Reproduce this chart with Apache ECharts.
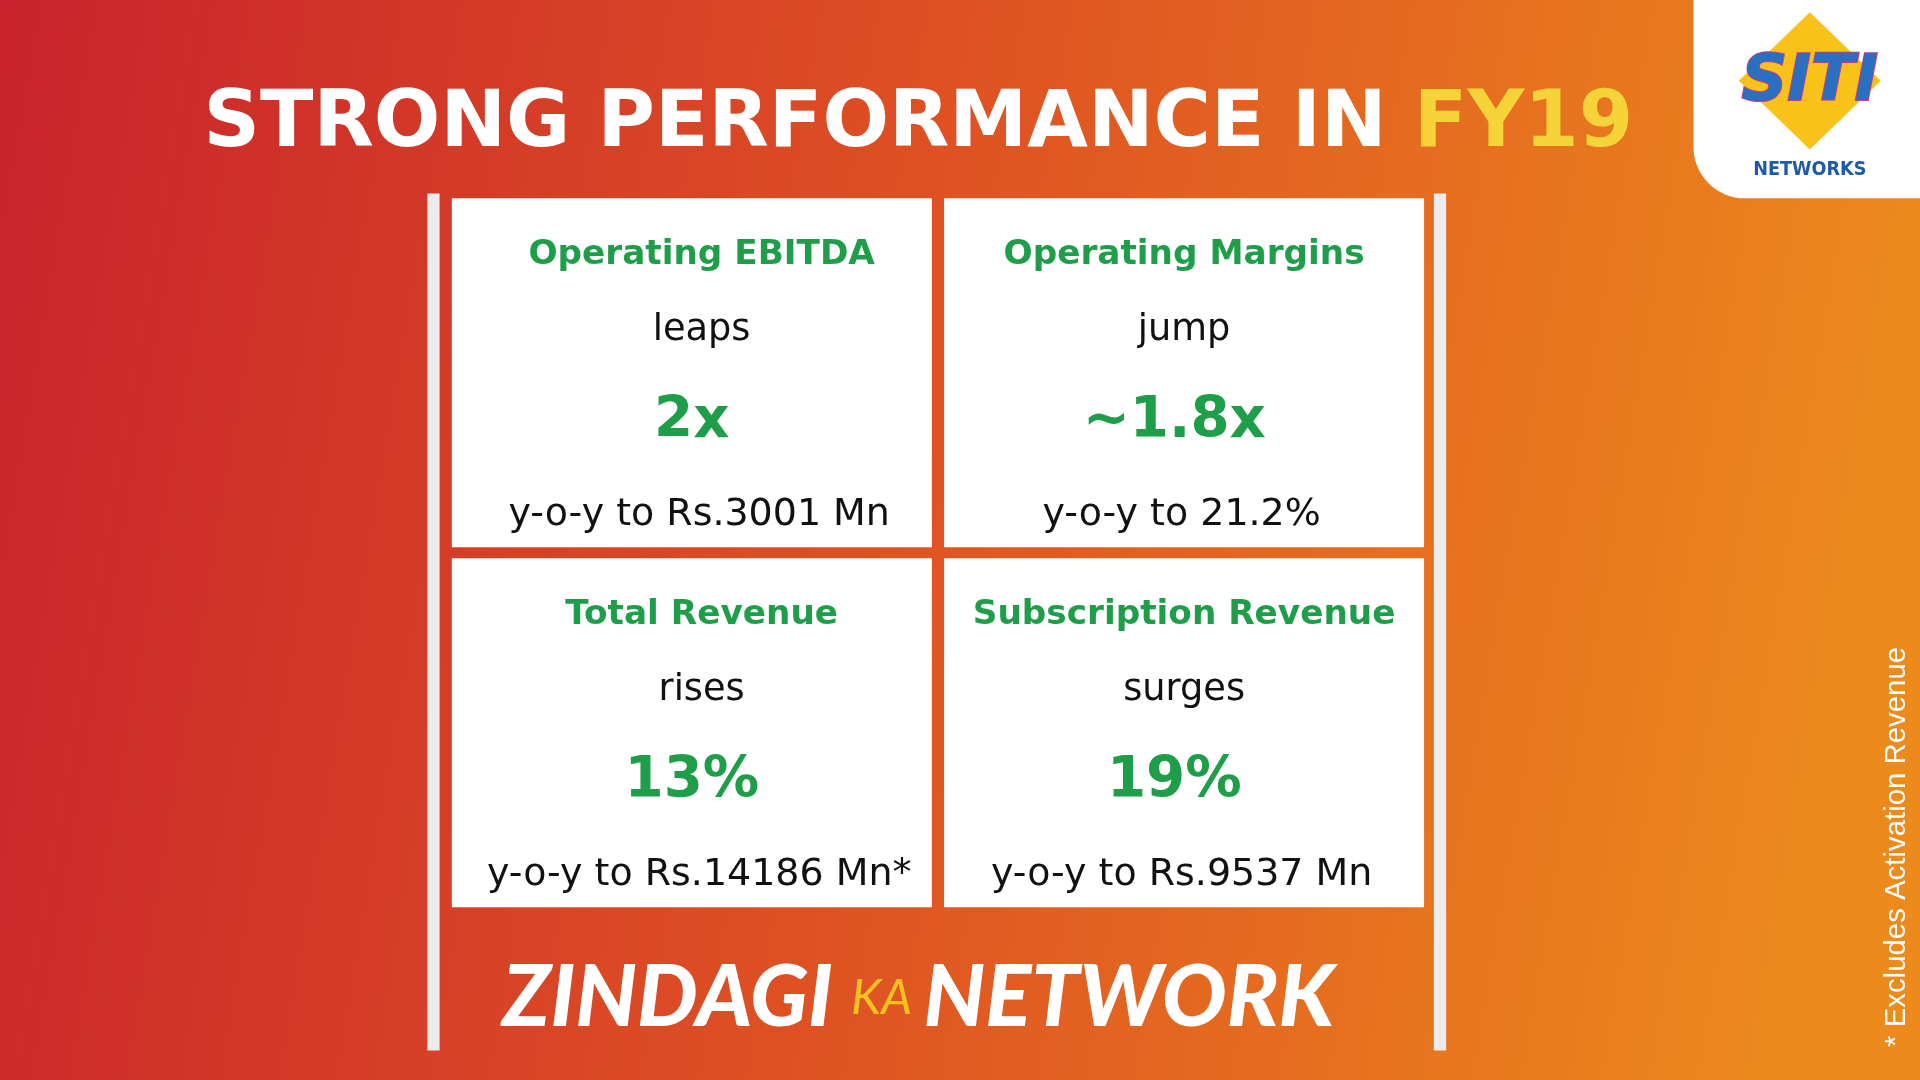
<!DOCTYPE html>
<html><head><meta charset="utf-8">
<script src="https://cdn.jsdelivr.net/npm/echarts@6/dist/echarts.min.js"></script>
<style>html,body{margin:0;padding:0;width:1920px;height:1080px;overflow:hidden}#c{width:1920px;height:1080px}</style>
</head><body><div id="c"></div>
<script>
const titles = ["Operating EBITDA","Operating Margins","Total Revenue","Subscription Revenue"];
const verbs = ["leaps","jump","rises","surges"];
const values = ["2x","~1.8x","13%","19%"];
const subtexts = ["y-o-y to Rs.3001 Mn","y-o-y to 21.2%","y-o-y to Rs.14186 Mn*","y-o-y to Rs.9537 Mn"];

const s = 1920/1568;
const P = v => v*s;
const green = '#1f9e4a';
const els = [];
els.push({type:'rect',shape:{x:0,y:0,width:1920,height:1080},style:{fill:{type:'linear',x:0,y:0,x2:1,y2:0.3,colorStops:[{offset:0,color:'#c8232c'},{offset:0.5,color:'#df5223'},{offset:1,color:'#ec8a1c'}]}},z:0});
els.push({type:'text',x:P(750),y:P(103),style:{text:'{w|STRONG PERFORMANCE IN }{y|FY19}',rich:{w:{fill:'#fff',fontSize:P(64),fontWeight:'bold',fontFamily:'DejaVu Sans'},y:{fill:'#f7d33a',fontSize:P(64),fontWeight:'bold',fontFamily:'DejaVu Sans'}},align:'center',verticalAlign:'middle'},z:5});
els.push({type:'rect',shape:{x:P(1383),y:-50,width:P(186)+10,height:P(162)+50,r:[0,0,0,P(42)]},style:{fill:'#fff'},z:5});
els.push({type:'polygon',shape:{points:[[P(1478),P(10)],[P(1536),P(66)],[P(1478),P(122)],[P(1420),P(66)]]},style:{fill:'#f9c21b'},z:6});
els.push({type:'text',x:P(1478),y:P(68),style:{text:'SITI',fill:'#2a6fc0',stroke:'#c33b8a',lineWidth:2,fontSize:P(52),fontWeight:900,fontStyle:'italic',fontFamily:'DejaVu Sans',align:'center',verticalAlign:'middle'},z:7});
els.push({type:'text',x:P(1478),y:P(139),style:{text:'NETWORKS',fill:'#1f5aa8',fontSize:P(16),fontWeight:'bold',fontFamily:'DejaVu Sans Condensed',align:'center',verticalAlign:'middle'},z:7});
[349,1171].forEach(x=>els.push({type:'rect',shape:{x:P(x),y:P(158),width:P(10),height:P(700)},style:{fill:'#ececec'},z:4}));
const cx=[369,771], cy=[162,456];
titles.forEach((t,i)=>{
  const x=cx[i%2], y=cy[Math.floor(i/2)], w=392, mid=x+w/2+(i%2?0:8);
  els.push({type:'rect',shape:{x:P(x),y:P(y),width:P(w),height:P(285)},style:{fill:'#fff'},z:4});
  els.push({type:'text',x:P(mid),y:P(y+46),style:{text:t,fill:green,fontSize:P(28),fontWeight:'bold',fontFamily:'DejaVu Sans',align:'center',verticalAlign:'middle'},z:5});
  els.push({type:'text',x:P(mid),y:P(y+108),style:{text:verbs[i],fill:'#111',fontSize:P(30),fontFamily:'DejaVu Sans',align:'center',verticalAlign:'middle'},z:5});
  els.push({type:'text',x:P(mid-8),y:P(y+183),style:{text:values[i],fill:green,fontSize:P(46),fontWeight:'bold',fontFamily:'DejaVu Sans',align:'center',verticalAlign:'middle'},z:5});
  els.push({type:'text',x:P(mid-2),y:P(y+259),style:{text:subtexts[i],fill:'#111',fontSize:P(31),fontFamily:'DejaVu Sans',align:'center',verticalAlign:'middle'},z:5});
});
els.push({type:'text',x:P(750),y:P(815),style:{text:'{a|ZINDAGI }{b|KA }{a|NETWORK}',rich:{a:{fill:'#fff',fontSize:P(70),fontWeight:900,fontStyle:'italic',fontFamily:'Lato'},b:{fill:'#f7c21f',fontSize:P(40),fontStyle:'italic',fontFamily:'Lato'}},align:'center',verticalAlign:'middle'},z:5});
els.push({type:'text',x:P(1549),y:P(855),rotation:Math.PI/2,style:{text:'* Excludes Activation Revenue',fill:'#fff',fontSize:P(24),fontFamily:'Liberation Sans',align:'left',verticalAlign:'middle'},z:5});

const chart=echarts.init(document.getElementById('c'));
chart.setOption({animation:false,graphic:{elements:els}});
</script></body></html>
